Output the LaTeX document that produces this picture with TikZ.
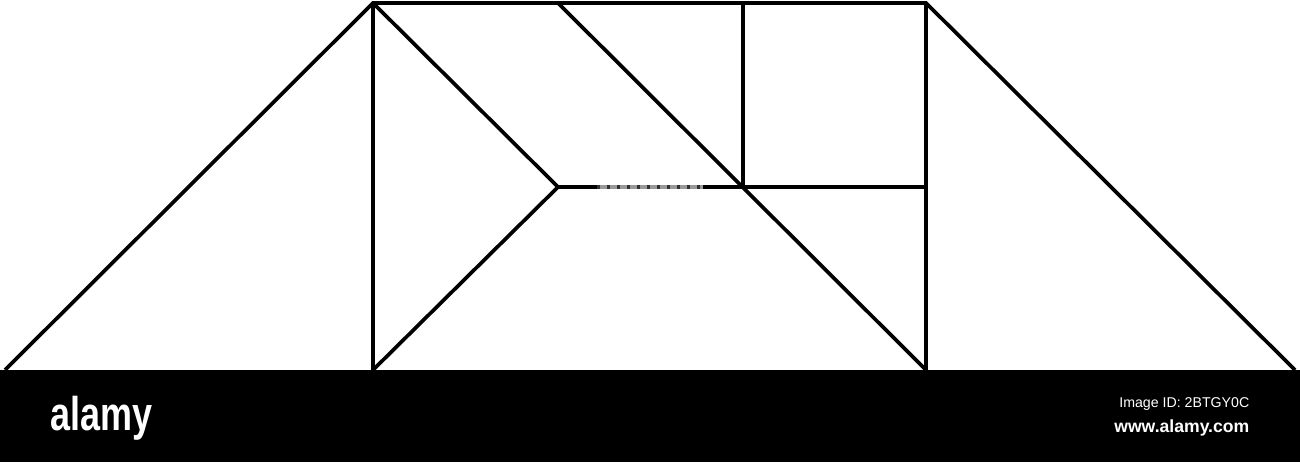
\documentclass[tikz,border=0pt]{standalone}
\usepackage{fontspec}
\setmainfont{Liberation Sans}
\usepackage{graphicx}

\tikzset{
  edge/.style={line width=1.05pt, black},
  stain/.style={line width=1.05pt, gray!80},
  stainmark/.style={line width=1.05pt, black!80, dash pattern=on 0.025cm off 0.075cm},
}

\begin{document}
\begin{tikzpicture}
\useasboundingbox (0,0) rectangle (13,4.62);
\begin{scope}
\coordinate (bl) at (0.05,0.92);
\coordinate (tl) at (3.73,4.59);
\coordinate (tr) at (9.26,4.59);
\coordinate (br) at (12.95,0.92);
\coordinate (ml) at (3.73,0.92);
\coordinate (mr) at (9.26,0.92);
\coordinate (tm) at (5.58,4.59);
\coordinate (tq) at (7.43,4.59);
\coordinate (c) at (5.58,2.75);
\coordinate (x) at (7.43,2.75);
\coordinate (rm) at (9.26,2.75);
\coordinate (g1) at (5.97,2.75);
\coordinate (g2) at (7.03,2.75);

\draw[edge] (bl) -- (tl) -- (tr) -- (br);
\draw[edge] (tl) -- (ml);
\draw[edge] (tr) -- (mr);
\draw[edge] (tl) -- (c) -- (ml);
\draw[edge] (tm) -- (mr);
\draw[edge] (tq) -- (x);
\draw[edge] (c) -- (rm);
\draw[stain] (g1) -- (g2);
\draw[stainmark] (g1) -- (g2);
\end{scope}

% bottom bar
\fill[black] (0,0) rectangle (13,0.92);
\node[white, font=\bfseries, anchor=west, inner sep=0pt] (logo) at (0.5,0.44)
  {\resizebox{1.02cm}{!}{\scalebox{0.76}[1]{alamy}}};
\node[white, anchor=east, inner sep=0pt] (imgid) at (12.5,0.58)
  {\resizebox{1.3cm}{!}{Image ID: 2BTGY0C}};
\node[white, font=\bfseries, anchor=east, inner sep=0pt] (url) at (12.5,0.34)
  {\resizebox{1.35cm}{!}{www.alamy.com}};
\end{tikzpicture}
\end{document}
